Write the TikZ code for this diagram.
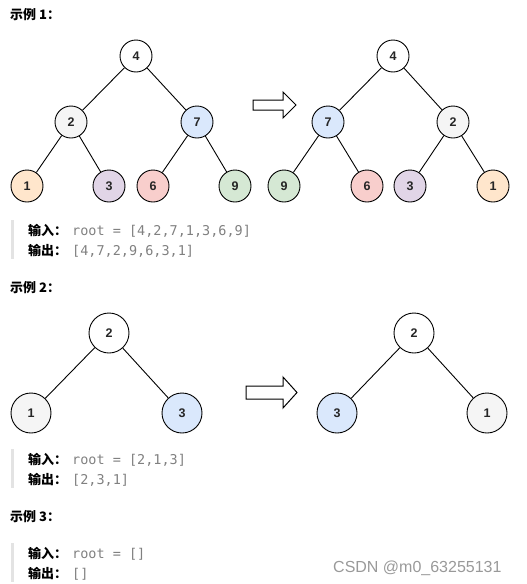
\documentclass[tikz,border=0pt]{standalone}
\usepackage{fontspec}
\setmainfont{Liberation Sans}
\setmonofont{DejaVu Sans Mono}
\newfontfamily\cjk{Noto Sans CJK SC}
\usetikzlibrary{positioning}
\definecolor{cwhite}{HTML}{FFFFFF}
\definecolor{cgray}{HTML}{F5F5F5}
\definecolor{cblue}{HTML}{DAE8FC}
\definecolor{corange}{HTML}{FFE6CC}
\definecolor{cpurple}{HTML}{E1D5E7}
\definecolor{cred}{HTML}{F8CECC}
\definecolor{cgreen}{HTML}{D5E8D4}
\definecolor{codegray}{HTML}{808080}
\definecolor{bargray}{HTML}{E3E3E3}

\begin{document}
\begin{tikzpicture}[
    x=1pt, y=-1pt,
    tnode/.style={circle, draw, line width=0.9pt, minimum size=32pt, inner sep=0pt, font=\bfseries\fontsize{12.5}{13}\selectfont, text=black!85},
    big/.style={minimum size=40pt},
    edge/.style={line width=0.9pt},
    bigarr/.style={draw, line width=1pt, fill=white},
    title/.style={anchor=base west, inner sep=0pt, font=\cjk\bfseries\fontsize{13}{15}\selectfont},
    code/.style={anchor=base west, inner sep=0pt, font=\ttfamily\fontsize{13.5}{15}\selectfont, text=codegray},
    bar/.style={draw=bargray, line width=3pt}
]
\useasboundingbox (0,0) rectangle (527,584);

% example 1
\node[title] (h1) at (10,19) {示例 1：};

\node[tnode, fill=cwhite] (a4) at (136,56) {4};
\node[tnode, fill=cgray] (a2) at (71,122) {2};
\node[tnode, fill=cblue] (a7) at (197,122) {7};
\node[tnode, fill=corange] (a1) at (27,186) {1};
\node[tnode, fill=cpurple] (a3) at (109,186) {3};
\node[tnode, fill=cred] (a6) at (153,186) {6};
\node[tnode, fill=cgreen] (a9) at (235,186) {9};
\draw[edge] (a4) -- (a2);
\draw[edge] (a4) -- (a7);
\draw[edge] (a2) -- (a1);
\draw[edge] (a2) -- (a3);
\draw[edge] (a7) -- (a6);
\draw[edge] (a7) -- (a9);

\draw[bigarr] (253,100) -- (283,100) -- (283,92) -- (296,105) -- (283,118) -- (283,110) -- (253,110) -- cycle;

\node[tnode, fill=cwhite] (b4) at (393,56) {4};
\node[tnode, fill=cblue] (b7) at (328,122) {7};
\node[tnode, fill=cgray] (b2) at (453,122) {2};
\node[tnode, fill=cgreen] (b9) at (284,186) {9};
\node[tnode, fill=cred] (b6) at (367,186) {6};
\node[tnode, fill=cpurple] (b3) at (410,186) {3};
\node[tnode, fill=corange] (b1) at (493,186) {1};
\draw[edge] (b4) -- (b7);
\draw[edge] (b4) -- (b2);
\draw[edge] (b7) -- (b9);
\draw[edge] (b7) -- (b6);
\draw[edge] (b2) -- (b3);
\draw[edge] (b2) -- (b1);

\draw[bar] (12,220) -- (12,259);
\node[title] (in1) at (28,235) {输入：};
\node[code] (in1v) at (72,235) {root = [4,2,7,1,3,6,9]};
\node[title] (out1) at (28,255) {输出：};
\node[code] (out1v) at (72,255) {[4,7,2,9,6,3,1]};

% example 2
\node[title] (h2) at (10,292) {示例 2：};

\node[tnode, big, fill=cwhite] (c2) at (109,333) {2};
\node[tnode, big, fill=cgray] (c1) at (31,413) {1};
\node[tnode, big, fill=cblue] (c3) at (182,413) {3};
\draw[edge] (c2) -- (c1);
\draw[edge] (c2) -- (c3);

\draw[bigarr] (246,386) -- (283,386) -- (283,377) -- (297,392.5) -- (283,408) -- (283,399) -- (246,399) -- cycle;

\node[tnode, big, fill=cwhite] (d2) at (414,333) {2};
\node[tnode, big, fill=cblue] (d3) at (337,413) {3};
\node[tnode, big, fill=cgray] (d1) at (487,413) {1};
\draw[edge] (d2) -- (d3);
\draw[edge] (d2) -- (d1);

\draw[bar] (12,449) -- (12,488);
\node[title] (in2) at (28,464) {输入：};
\node[code] (in2v) at (72,464) {root = [2,1,3]};
\node[title] (out2) at (28,484) {输出：};
\node[code] (out2v) at (72,484) {[2,3,1]};

% example 3
\node[title] (h3) at (10,521) {示例 3：};

\draw[bar] (12,543) -- (12,582);
\node[title] (in3) at (28,558) {输入：};
\node[code] (in3v) at (72,558) {root = []};
\node[title] (out3) at (28,578) {输出：};
\node[code] (out3v) at (72,578) {[]};

\node[anchor=base west, inner sep=0pt, text=black!40, font=\fontsize{16}{18}\selectfont] (mark) at (333,572) {CSDN @m0\_63255131};
\end{tikzpicture}
\end{document}
